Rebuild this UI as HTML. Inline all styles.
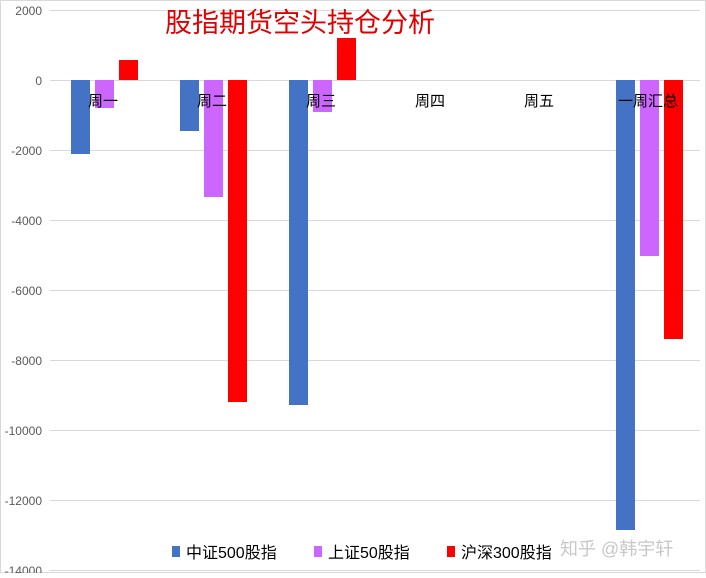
<!DOCTYPE html><html><head><meta charset="utf-8"><style>body{margin:0;background:#fff}</style></head><body>
<svg width="706" height="573" xmlns="http://www.w3.org/2000/svg" font-family="Liberation Sans, Noto Sans CJK SC, sans-serif">
<rect x="0.5" y="0.5" width="705" height="572" fill="#fff" stroke="#d9d9d9"/>
<g stroke="#d9d9d9" stroke-width="1">
<line x1="50" x2="700" y1="10.5" y2="10.5"/><line x1="50" x2="700" y1="80.5" y2="80.5"/>
<line x1="50" x2="700" y1="150.5" y2="150.5"/><line x1="50" x2="700" y1="220.5" y2="220.5"/>
<line x1="50" x2="700" y1="290.5" y2="290.5"/><line x1="50" x2="700" y1="360.5" y2="360.5"/>
<line x1="50" x2="700" y1="430.5" y2="430.5"/><line x1="50" x2="700" y1="500.5" y2="500.5"/>
<line x1="50" x2="700" y1="570.5" y2="570.5"/></g>
<g font-size="12" fill="#595959" text-anchor="end">
<text x="42" y="15">2000</text><text x="42" y="85">0</text><text x="42" y="155">-2000</text>
<text x="42" y="225">-4000</text><text x="42" y="295">-6000</text><text x="42" y="365">-8000</text>
<text x="42" y="435">-10000</text><text x="42" y="505">-12000</text><text x="42" y="575">-14000</text></g>
<g fill="#4472c4"><rect x="71" y="80" width="19" height="74"/><rect x="180" y="80" width="19" height="51"/><rect x="289" y="80" width="19" height="325"/><rect x="616" y="80" width="19" height="450"/></g>
<g fill="#cc66ff"><rect x="95" y="80" width="19" height="28"/><rect x="204" y="80" width="19" height="117"/><rect x="313" y="80" width="19" height="32"/><rect x="640" y="80" width="19" height="176"/></g>
<g fill="#ff0000"><rect x="119" y="60" width="19" height="20"/><rect x="228" y="80" width="19" height="322"/><rect x="337" y="38" width="19" height="42"/><rect x="664" y="80" width="19" height="259"/></g>
<g font-size="15" fill="#000" text-anchor="middle">
<text x="103" y="106">周一</text><text x="212" y="106">周二</text><text x="321" y="106">周三</text>
<text x="430" y="106">周四</text><text x="539" y="106">周五</text><text x="648" y="106">一周汇总</text></g>
<text x="300" y="32" font-size="27" fill="#e00000" text-anchor="middle">股指期货空头持仓分析</text>
<g font-size="16" fill="#000">
<rect x="172" y="546" width="8" height="11" fill="#4472c4"/><text x="186" y="558">中证500股指</text>
<rect x="314" y="546" width="8" height="11" fill="#cc66ff"/><text x="328" y="558">上证50股指</text>
<rect x="447" y="546" width="8" height="11" fill="#ff0000"/><text x="461" y="558">沪深300股指</text></g>
<text x="560" y="555" font-size="18" fill="#c8c8c8">知乎 @韩宇轩</text>
</svg></body></html>
